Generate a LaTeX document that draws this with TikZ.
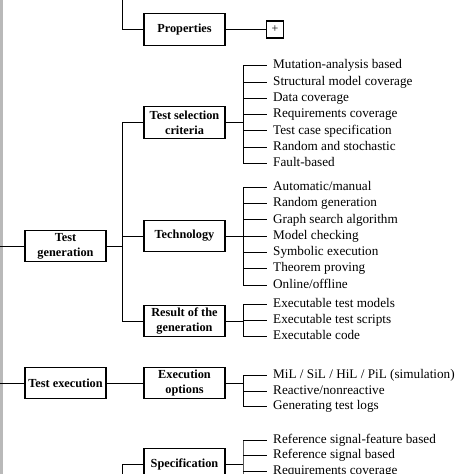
\documentclass[tikz,border=0pt]{standalone}
\usepackage{fontspec}
\setmainfont{Liberation Serif}
\tikzset{
  catbox/.style={draw,line width=1.3pt,minimum width=81pt,minimum height=31.5pt,
    align=center,inner sep=1pt,font=\fontsize{12.3}{15}\selectfont\bfseries},
  leaf/.style={anchor=west,inner xsep=6pt,inner ysep=0pt,text height=9pt,text depth=2.5pt,
    font=\fontsize{13.2}{15}\selectfont},
  conn/.style={line width=0.9pt}
}
\begin{document}
\begin{tikzpicture}[x=1pt,y=-1pt]
  \clip (0,0) rectangle (474,474);
  \fill[white] (0,0) rectangle (474,474);
  \fill[gray!55] (0,0) rectangle (3,474);

  % category boxes
  \node[catbox] (prop) at (184.5,29.5) {Properties};
  \node[draw,line width=1.1pt,minimum width=16.5pt,minimum height=17pt,inner sep=0pt,
    font=\fontsize{12}{12}\selectfont] (plus) at (275,29.5) {+};
  \node[catbox] (tsc) at (184.5,122.5) {Test selection\\criteria};
  \node[catbox] (tech) at (184.5,236) {Technology};
  \node[catbox] (res) at (184.5,321) {Result of the\\generation};
  \node[catbox] (tgen) at (65.5,246) {Test\\generation};
  \node[catbox] (texec) at (65.5,383) {Test execution};
  \node[catbox] (exopt) at (184.5,383) {Execution\\options};
  \node[catbox] (spec) at (184.5,464) {Specification};

  % trunks
  \coordinate (proptop) at (122,0);
  \coordinate (gentop) at (122,122.5);
  \coordinate (genbot) at (122,321);
  \coordinate (specbot) at (122,474);
  \draw[conn] (proptop) |- (prop.west);
  \draw[conn] (prop.east) -- (plus.west);
  \draw[conn] (gentop) -- (genbot);
  \draw[conn] (gentop) -- (tsc.west);
  \draw[conn] (tgen.east) -- (tgen.east -| gentop);
  \draw[conn] (tech.west -| gentop) -- (tech.west);
  \draw[conn] (genbot) -- (res.west);
  \draw[conn] (texec.east) -- (exopt.west);
  \draw[conn] (specbot) |- (spec.west);
  \coordinate (rootgen) at (0,246);
  \coordinate (rootexec) at (0,383);
  \draw[conn] (rootgen) -- (tgen.west);
  \draw[conn] (rootexec) -- (texec.west);

  % leaves: selection criteria
  \coordinate (tscb) at (243,122.5);
  \draw[conn] (tsc.east) -- (tscb);
  \foreach \txt [count=\i] in {Mutation-analysis based,Structural model coverage,Data coverage,
      Requirements coverage,Test case specification,Random and stochastic,Fault-based}{
    \node[leaf] (tsc-\i) at (267,65.7+16.27*\i-16.27) {\txt};
    \draw[conn] (tscb |- tsc-\i.west) -- (tsc-\i.west);
  }
  \draw[conn] (tscb |- tsc-1.west) -- (tscb |- tsc-7.west);

  % leaves: technology
  \coordinate (techb) at (243,236);
  \draw[conn] (tech.east) -- (techb);
  \foreach \txt [count=\i] in {Automatic/manual,Random generation,Graph search algorithm,
      Model checking,Symbolic execution,Theorem proving,Online/offline}{
    \node[leaf] (tech-\i) at (267,187.3+16.28*\i-16.28) {\txt};
    \draw[conn] (techb |- tech-\i.west) -- (tech-\i.west);
  }
  \draw[conn] (techb |- tech-1.west) -- (techb |- tech-7.west);

  % leaves: result
  \coordinate (resb) at (243,321);
  \draw[conn] (res.east) -- (resb);
  \foreach \txt [count=\i] in {Executable test models,Executable test scripts,Executable code}{
    \node[leaf] (res-\i) at (267,304+16.3*\i-16.3) {\txt};
    \draw[conn] (resb |- res-\i.west) -- (res-\i.west);
  }
  \draw[conn] (resb |- res-1.west) -- (resb |- res-3.west);

  % leaves: execution options
  \coordinate (exoptb) at (243,383);
  \draw[conn] (exopt.east) -- (exoptb);
  \foreach \txt [count=\i] in {MiL / SiL / HiL / PiL (simulation),Reactive/nonreactive,Generating test logs}{
    \node[leaf] (exopt-\i) at (267,375.7+15.5*\i-15.5) {\txt};
    \draw[conn] (exoptb |- exopt-\i.west) -- (exopt-\i.west);
  }
  \draw[conn] (exoptb |- exopt-1.west) -- (exoptb |- exopt-3.west);

  % leaves: specification
  \coordinate (specb) at (243,464);
  \draw[conn] (spec.east) -- (specb);
  \foreach \txt [count=\i] in {Reference signal-feature based,Reference signal based,Requirements coverage}{
    \node[leaf] (spec-\i) at (267,440+15.5*\i-15.5) {\txt};
    \draw[conn] (specb |- spec-\i.west) -- (spec-\i.west);
  }
  \draw[conn] (specb |- spec-1.west) -- (specb |- spec-3.west) -- ++(0,10);
\end{tikzpicture}
\end{document}
